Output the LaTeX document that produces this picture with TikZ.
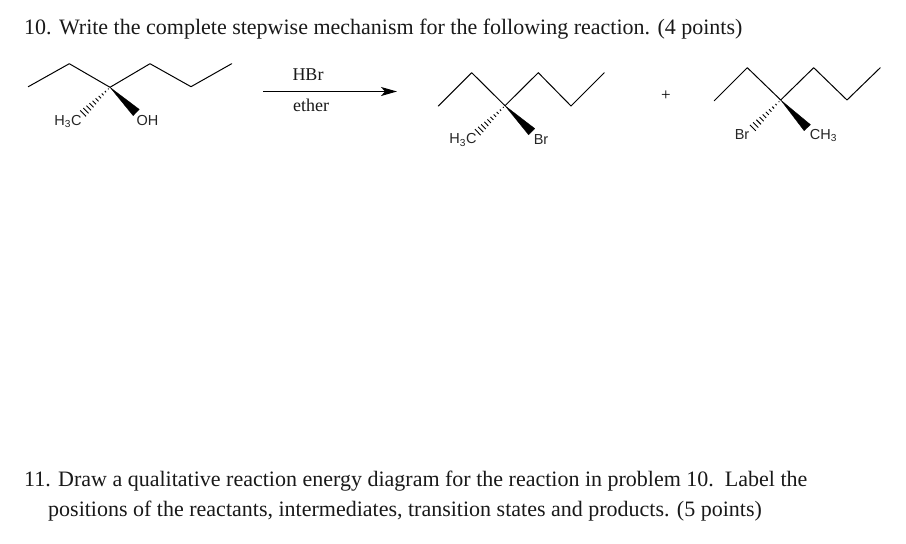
\documentclass[tikz,border=0pt]{standalone}
\usepackage{fontspec}
\setmainfont{Liberation Serif}
\newfontfamily\chemfont{Liberation Sans}
\usetikzlibrary{calc,arrows.meta}
\tikzset{
  bond/.style={draw=black,line width=1pt,line cap=round,line join=round},
  wedgebond/.style={fill=black,draw=black,line width=0.3pt},
  hashline/.style={draw=black,line width=0.9pt},
  atomlabel/.style={font=\chemfont\fontsize{14.5}{14.5}\selectfont,inner sep=0pt,text=black!85},
  qtext/.style={font=\fontsize{22}{26}\selectfont,inner sep=0pt,anchor=base west,text=black!90},
  condtext/.style={font=\fontsize{18}{20}\selectfont,inner sep=0pt,anchor=base,text=black!90},
  rxnarrow/.style={draw=black,line width=1.3pt,-{Stealth[length=16pt,width=9pt,inset=4pt]}},
}
\newcommand{\wedgeb}[2]{%
  \fill[wedgebond] (#1) -- ($(#2)!4.4pt!90:(#1)$) -- ($(#2)!4.4pt!-90:(#1)$) -- cycle;}
\newcommand{\hashb}[2]{%
  \foreach \t/\w in {0.06/0.5,0.16/0.9,0.26/1.3,0.36/1.7,0.46/2.1,0.56/2.5,0.66/2.9,0.76/3.3,0.86/3.7,0.96/4.1}{%
    \draw[hashline] ($(#1)!\t!(#2)!\w pt!90:(#2)$) -- ($(#1)!\t!(#2)!\w pt!-90:(#2)$);}}
\begin{document}
\begin{tikzpicture}[x=1pt,y=-1pt]
\useasboundingbox (0,0) rectangle (906,544);
\fill[white] (0,0) rectangle (906,544);
% question text
\node[qtext] (q10) at (24,34) {10. Write the complete stepwise mechanism for the following reaction. (4 points)};
\node[qtext] (q11a) at (24,486) {11. Draw a qualitative reaction energy diagram for the reaction in problem 10.\ \ Label the};
\node[qtext] (q11b) at (48,516) {positions of the reactants, intermediates, transition states and products. (5 points)};
% reactant
\coordinate (a1) at (28.3,86.7);
\coordinate (a2) at (69.3,63.7);
\coordinate (a3) at (110,87.3);
\coordinate (a4) at (150,63.7);
\coordinate (a5) at (191,86.7);
\coordinate (a6) at (231.7,63.7);
\coordinate (aw) at (136.2,112.5);
\coordinate (ah) at (82,114.5);
\draw[bond] (a1) -- (a2) -- (a3) -- (a4) -- (a5) -- (a6);
\wedgeb{a3}{aw}
\hashb{a3}{ah}
\node[atomlabel] (ach3) at (68,121.5) {H\textsubscript{3}C};
\node[atomlabel] (aoh) at (147.5,121) {OH};
% arrow
\coordinate (arrL) at (263,91.5);
\coordinate (arrR) at (397,91.5);
\draw[rxnarrow] (arrL) -- (arrR);
\node[condtext] (hbr) at (308,80) {HBr};
\node[condtext] (ether) at (311,111) {ether};
% product 1
\coordinate (b1) at (438.3,106);
\coordinate (b2) at (471.7,72.7);
\coordinate (b3) at (505,105.7);
\coordinate (b4) at (538.3,72.7);
\coordinate (b5) at (571,106);
\coordinate (b6) at (604.3,72.7);
\coordinate (bw) at (531.7,131.7);
\coordinate (bh) at (476.7,133.3);
\draw[bond] (b1) -- (b2) -- (b3) -- (b4) -- (b5) -- (b6);
\wedgeb{b3}{bw}
\hashb{b3}{bh}
\node[atomlabel] (bch3) at (463,140) {H\textsubscript{3}C};
\node[atomlabel] (bbr) at (541,139.5) {Br};
% plus
\node[font=\fontsize{17}{17}\selectfont,inner sep=0pt] (plus) at (666,95.5) {+};
% product 2
\coordinate (c1) at (714.3,100.7);
\coordinate (c2) at (747.3,67.7);
\coordinate (c3) at (780.7,100);
\coordinate (c4) at (813.7,67.7);
\coordinate (c5) at (847,100);
\coordinate (c6) at (880.3,67.7);
\coordinate (cw) at (807.3,127.7);
\coordinate (ch) at (751.7,129);
\draw[bond] (c1) -- (c2) -- (c3) -- (c4) -- (c5) -- (c6);
\wedgeb{c3}{cw}
\hashb{c3}{ch}
\node[atomlabel] (cbr) at (742,134.5) {Br};
\node[atomlabel] (cch3) at (823.5,135.5) {CH\textsubscript{3}};
\end{tikzpicture}
\end{document}
